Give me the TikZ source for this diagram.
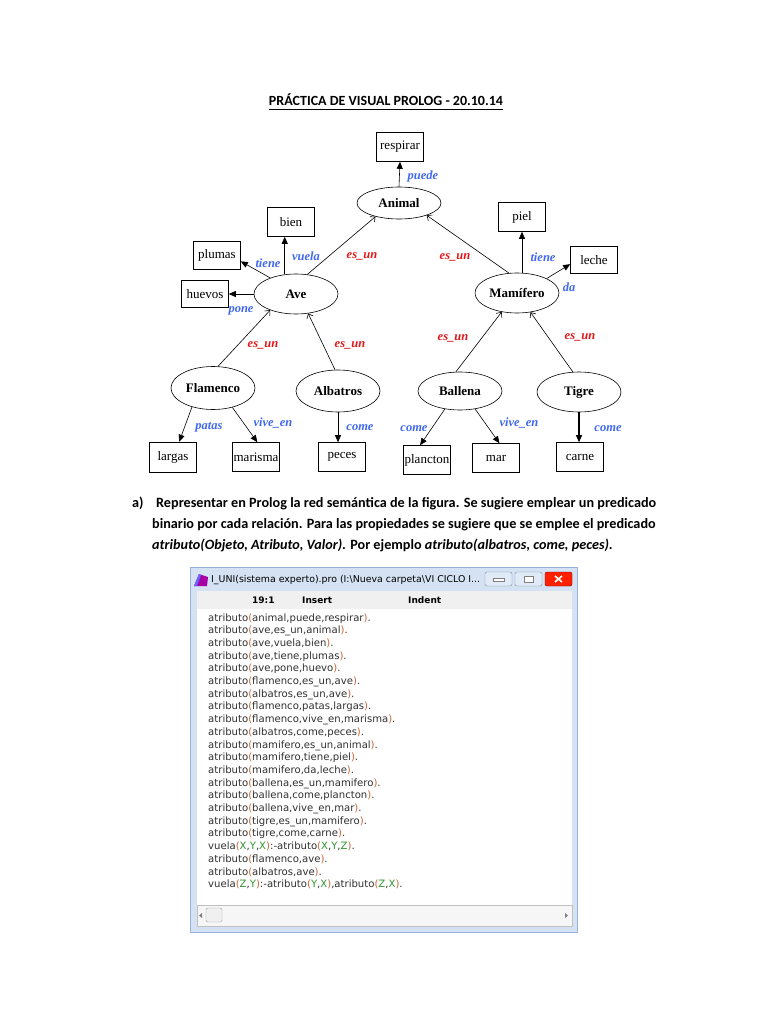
\documentclass[tikz,border=0pt]{standalone}
\usepackage{fontspec}
\setmainfont{Carlito}
\newfontfamily\netfont{Liberation Serif}
\newfontfamily\codefont{DejaVu Sans}
\usetikzlibrary{shapes.geometric,arrows.meta}
\definecolor{esred}{RGB}{228,24,24}
\definecolor{relblue}{RGB}{64,104,240}
\definecolor{paren}{RGB}{196,104,56}
\definecolor{varg}{RGB}{48,150,48}
\definecolor{codetxt}{RGB}{48,48,48}
\definecolor{frameblue}{RGB}{212,226,243}
\definecolor{edgeblue}{RGB}{150,178,212}
\definecolor{barbg}{RGB}{240,240,240}
\newcommand{\pp}[1]{\textcolor{paren}{#1}}
\newcommand{\vv}[1]{\textcolor{varg}{#1}}
\newcommand{\atr}[1]{atributo\pp{(}#1\pp{)}.}
\tikzset{
  concept/.style={ellipse,draw,line width=0.6pt,minimum width=84pt,minimum height=40pt,inner sep=0pt,
    font=\netfont\fontsize{13}{13}\selectfont\bfseries},
  value/.style={rectangle,draw,line width=0.6pt,minimum width=47pt,minimum height=29pt,inner sep=1pt,
    font=\netfont\fontsize{13}{13}\selectfont},
  isa/.style={-{Straight Barb[length=4pt,width=7pt]},line width=0.6pt},
  prop/.style={-{Triangle[length=7pt,width=6pt]},line width=0.6pt},
  esun/.style={inner sep=0pt,text=esred,font=\netfont\fontsize{12.5}{12.5}\selectfont\bfseries\itshape},
  rel/.style={inner sep=0pt,text=relblue,font=\netfont\fontsize{12.5}{12.5}\selectfont\bfseries\itshape},
  para/.style={anchor=base west,inner sep=0pt,font=\bfseries\fontsize{14.2}{14.2}\selectfont},
  codeline/.style={anchor=base west,inner sep=0pt,text=codetxt,font=\codefont\fontsize{10.1}{10.1}\selectfont},
  winbtn/.style={draw=edgeblue!80!black,fill=frameblue!70!white,rounded corners=2pt},
}
\begin{document}
\begin{tikzpicture}[x=1pt,y=-1pt]
\useasboundingbox (0,0) rectangle (768,1024);
\fill[white] (0,0) rectangle (768,1024);

% title
\node[anchor=base,inner sep=0pt,font=\bfseries\fontsize{14}{14}\selectfont] (title) at (386,106)
  {PRÁCTICA DE VISUAL PROLOG - 20.10.14};
\draw[line width=0.9pt] ([yshift=-3pt]title.base west) -- ([yshift=-3pt]title.base east);

% semantic net: concepts
\node[concept,minimum height=32pt] (animal) at (399,203) {Animal};
\node[concept] (ave) at (296,294) {Ave};
\node[concept] (mamifero) at (517,293) {Mamífero};
\node[concept,minimum height=43pt] (flamenco) at (213,388) {Flamenco};
\node[concept,minimum height=42pt] (albatros) at (338,391) {Albatros};
\node[concept,minimum height=38pt] (ballena) at (460,391) {Ballena};
\node[concept] (tigre) at (579,392) {Tigre};

% values
\node[value] (respirar) at (400,147) {respirar};
\node[value] (bien) at (291,222) {bien};
\node[value,minimum height=28pt] (plumas) at (217,255) {plumas};
\node[value,minimum height=27pt] (huevos) at (205,294) {huevos};
\node[value] (piel) at (522,217) {piel};
\node[value,minimum height=27pt] (leche) at (594,260) {leche};
\node[value,minimum height=30pt] (largas) at (173,457) {largas};
\node[value] (marisma) at (256,457) {marisma};
\node[value] (peces) at (342,457) {peces};
\node[value] (plancton) at (427,460) {plancton};
\node[value] (mar) at (496,458) {mar};
\node[value] (carne) at (580,457) {carne};

% is-a links
\draw[isa] (ave.60) -- (animal.210);
\draw[isa] (mamifero.112) -- (animal.336);
\draw[isa] (flamenco.77) -- (ave.212);
\draw[isa] (albatros.98) -- (ave.302);
\draw[isa] (ballena.102) -- (mamifero.231);
\draw[isa] (tigre.107) -- (mamifero.305);

% property links
\draw[prop] (animal.north) -- (respirar.south);
\draw[prop] (ave.120) -- (ave.120 |- bien.south);
\draw[prop] (ave.148) -- (plumas.-15);
\draw[prop] (ave.west) -- (huevos.east);
\draw[prop] (piel.south |- mamifero.north) -- (piel.south);
\draw[prop] (mamifero.26) -- (leche.190);
\draw[prop] (flamenco.222) -- (largas.68);
\draw[prop] (flamenco.315) -- (marisma.85);
\draw[prop] (albatros.south) -- (albatros.south |- peces.north);
\draw[prop] (ballena.230) -- (plancton.115);
\draw[prop] (ballena.310) -- (mar.77);
\draw[prop,line width=1.2pt] (tigre.south) -- (tigre.south |- carne.north);

% link labels
\node[rel] (lpuede) at (423,176) {puede};
\node[rel] (lvuela) at (306,256) {vuela};
\node[rel] (ltieneave) at (268,263) {tiene};
\node[rel] (lpone) at (241,311) {pone};
\node[rel] (ltienemam) at (543,257) {tiene};
\node[rel] (lda) at (569,287) {da};
\node[rel] (lpatas) at (209,427) {patas};
\node[rel] (lviveflam) at (273,423) {vive\_en};
\node[rel] (lcomealb) at (360,428) {come};
\node[rel] (lcomeball) at (414,429) {come};
\node[rel] (lviveball) at (519,423) {vive\_en};
\node[rel] (lcometig) at (608,429) {come};
\node[esun] (esave) at (362,256) {es\_un};
\node[esun] (esmam) at (455,257) {es\_un};
\node[esun] (esflam) at (263,345) {es\_un};
\node[esun] (esalb) at (350,345) {es\_un};
\node[esun] (esball) at (453,338) {es\_un};
\node[esun] (estig) at (580,337) {es\_un};

% exercise text
\node[para] (itema) at (132,507) {a)};
\node[para] (par1) at (156,507) {Representar en Prolog la red semántica de la figura. Se sugiere emplear un predicado};
\node[para] (par2) at (152,528) {binario por cada relación. Para las propiedades se sugiere que se emplee el predicado};
\node[para] (par3) at (152,549) {\textit{atributo(Objeto, Atributo, Valor)}. Por ejemplo \textit{atributo(albatros, come, peces).}};

% editor window
\draw[draw=edgeblue,fill=frameblue] (190,567) rectangle (577,932);
\fill[barbg] (197,591) rectangle (572,609);
\fill[white] (197,609) rectangle (572,905);
\draw[draw=barbg!80!black,fill=barbg!60!white] (197,905) rectangle (572,926);
\fill[violet!70!magenta] (194,586) -- (199,574) -- (208,577) -- (207,586) -- cycle;
\fill[blue!60] (194,586) -- (199,574) -- (201,575) -- (197,586) -- cycle;
\node[anchor=west,inner sep=0pt,font=\codefont\fontsize{9.4}{9.4}\selectfont] (wintitle) at (211,580)
  {I\_UNI(sistema experto).pro (I:\textbackslash Nueva carpeta\textbackslash VI CICLO I...};
\draw[winbtn] (485,572) rectangle (512,586);
\draw[winbtn] (515,572) rectangle (542,586);
\draw[rounded corners=2pt,draw=red!50!black,fill=red!75!orange] (545,572) rectangle (572,586);
\draw[draw=gray,fill=white] (493,578) rectangle (504,581);
\draw[draw=gray,fill=white] (524,576) rectangle (533,582);
\draw[white,line width=1.6pt] (555,576) -- (562,582) (555,582) -- (562,576);
\node[anchor=west,inner sep=0pt,font=\codefont\bfseries\fontsize{9}{9}\selectfont] (pos) at (252,600) {19:1};
\node[anchor=west,inner sep=0pt,font=\codefont\bfseries\fontsize{9}{9}\selectfont] (ins) at (302,600) {Insert};
\node[anchor=west,inner sep=0pt,font=\codefont\bfseries\fontsize{9}{9}\selectfont] (ind) at (408,600) {Indent};
\foreach \args [count=\i] in {{animal,puede,respirar},{ave,es\_un,animal},{ave,vuela,bien},
    {ave,tiene,plumas},{ave,pone,huevo},{flamenco,es\_un,ave},{albatros,es\_un,ave},
    {flamenco,patas,largas},{flamenco,vive\_en,marisma},{albatros,come,peces},
    {mamifero,es\_un,animal},{mamifero,tiene,piel},{mamifero,da,leche},
    {ballena,es\_un,mamifero},{ballena,come,plancton},{ballena,vive\_en,mar},
    {tigre,es\_un,mamifero},{tigre,come,carne}}{
  \node[codeline] (line\i) at (208,{621+(\i-1)*12.7}) {\atr{\args}};
}
\node[codeline] (line19) at (208,{621+18*12.7}) {vuela\pp{(}\vv{X},\vv{Y},\vv{X}\pp{)}:-atributo\pp{(}\vv{X},\vv{Y},\vv{Z}\pp{)}.};
\node[codeline] (line20) at (208,{621+19*12.7}) {\atr{flamenco,ave}};
\node[codeline] (line21) at (208,{621+20*12.7}) {\atr{albatros,ave}};
\node[codeline] (line22) at (208,{621+21*12.7}) {vuela\pp{(}\vv{Z},\vv{Y}\pp{)}:-atributo\pp{(}\vv{Y},\vv{X}\pp{)},atributo\pp{(}\vv{Z},\vv{X}\pp{)}.};
\fill[gray] (199,915.5) -- (202,913) -- (202,918) -- cycle;
\fill[gray] (568,915.5) -- (565,913) -- (565,918) -- cycle;
\draw[rounded corners=1.5pt,draw=gray!70,fill=barbg] (206,908) rectangle (222,922);
\end{tikzpicture}
\end{document}
